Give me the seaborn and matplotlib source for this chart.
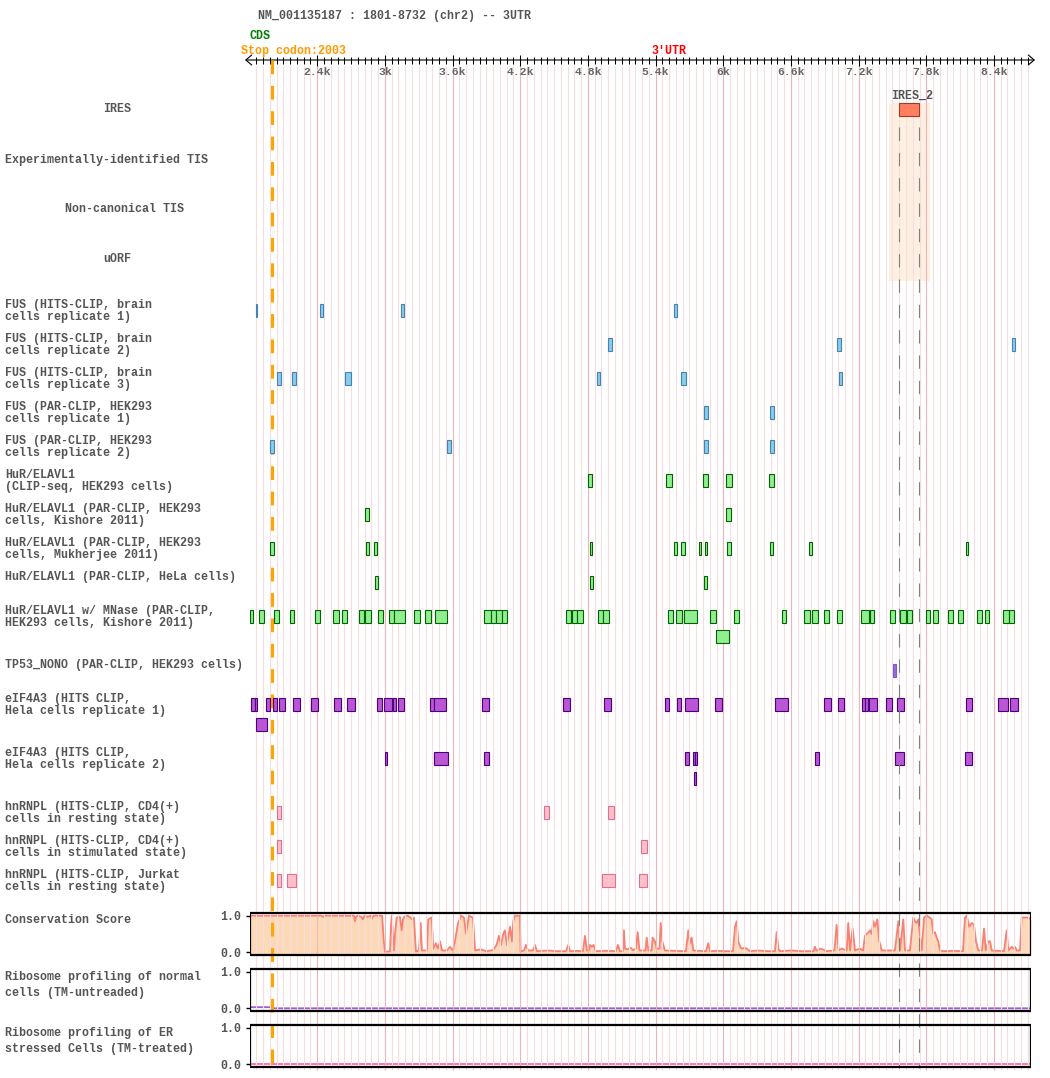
import numpy as np
import matplotlib
matplotlib.use("Agg")
import matplotlib.pyplot as plt
import matplotlib.transforms as mtransforms
from matplotlib.patches import Rectangle
import seaborn as sns

# ---------------- data ----------------
region_start, region_end = 1801, 8732
stop_codon = 2003
title = "NM_001135187 : 1801-8732 (chr2) -- 3UTR"

upper_labels = ["IRES", "Experimentally-identified TIS", "Non-canonical TIS", "uORF"]
ires_names = ["IRES_2"]
ires_regions = [(7560, 7738)]

fus_hits_rep1 = [(1855, 1870), (2424, 2448), (3145, 3166), (5566, 5587)]
fus_hits_rep2 = [(4980, 5010), (7011, 7041), (8563, 8584)]
fus_hits_rep3 = [(2043, 2075), (2178, 2208), (2648, 2696), (4880, 4904), (5628, 5667), (7029, 7050)]
fus_par_rep1 = [(5831, 5862), (6417, 6447)]
fus_par_rep2 = [(1983, 2013), (3553, 3583), (5831, 5862), (6417, 6447)]

hur_clipseq = [(4803, 4838), (5495, 5542), (5822, 5862), (6027, 6074), (6408, 6447)]
hur_kishore = [(2824, 2858), (6024, 6068)]
hur_mukherjee = [(1981, 2016), (2831, 2858), (2902, 2929), (4818, 4836), (5563, 5590),
                 (5626, 5661), (5785, 5803), (5838, 5856), (6033, 6068), (6414, 6441),
                 (6760, 6786), (8152, 8170)]
hur_hela = [(2910, 2937), (4818, 4844), (5829, 5856)]
hur_mnase = [(1801, 1827), (1886, 1930), (2019, 2058), (2158, 2196), (2382, 2421), (2542, 2590),
             (2622, 2661), (2770, 2811), (2826, 2873), (2941, 2980), (3038, 3080), (3080, 3175),
             (3260, 3308), (3358, 3405), (3446, 3553), (3881, 3938), (3938, 3985), (3985, 4038),
             (4038, 4085), (4608, 4647), (4661, 4703), (4703, 4753), (4892, 4933), (4933, 4984),
             (5512, 5551), (5583, 5631), (5654, 5764), (5885, 5932), (6098, 6142), (6523, 6559),
             (6718, 6771), (6789, 6842), (6895, 6940), (7011, 7055), (7224, 7289), (7301, 7339),
             (7481, 7520), (7570, 7617), (7629, 7676), (7800, 7835), (7862, 7906), (7995, 8034),
             (8084, 8128), (8252, 8297), (8323, 8359), (8483, 8533), (8533, 8580)]
hur_mnase_extra = [(5938, 6053)]

tp53_nono = [(7507, 7529)]

eif4a3_rep1 = [(1812, 1848), (1848, 1863), (1948, 1983), (2010, 2045), (2063, 2111), (2187, 2244),
               (2347, 2404), (2551, 2607), (2666, 2732), (2932, 2971), (2994, 3060), (3071, 3095),
               (3118, 3166), (3402, 3432), (3432, 3539), (3863, 3920), (4581, 4638), (4945, 5002),
               (5486, 5516), (5592, 5628), (5663, 5773), (5929, 5986), (6461, 6571), (6896, 6952),
               (7020, 7067), (7232, 7253), (7253, 7280), (7295, 7360), (7445, 7493), (7543, 7600),
               (8155, 8202), (8439, 8522), (8545, 8610)]
eif4a3_rep1_extra = [(1859, 1951)]
eif4a3_rep2 = [(3003, 3021), (3437, 3556), (3881, 3920), (5663, 5699), (5731, 5746), (5749, 5764),
               (6816, 6851), (7525, 7600), (8146, 8202)]
eif4a3_rep2_extra = [(5740, 5755)]

hnrnpl_resting = [(2043, 2075), (4410, 4457), (4980, 5033)]
hnrnpl_stimulated = [(2043, 2081), (5273, 5326)]
hnrnpl_jurkat = [(2043, 2081), (2134, 2214), (4927, 5042), (5255, 5326)]

cons_pos = [1801, 2440, 2453, 2466, 2725, 2734, 2745, 2761, 2790, 2805, 2818, 2850, 2870, 2885, 2900,
            2975, 2990, 3000, 3045, 3055, 3062, 3070, 3080, 3090, 3104, 3133, 3148, 3160, 3169, 3204,
            3225, 3240, 3257, 3268, 3275, 3302, 3317, 3328, 3373, 3380, 3384, 3414, 3422, 3428, 3452,
            3470, 3488, 3506, 3550, 3577, 3603, 3621, 3648, 3675, 3701, 3719, 3745, 3780, 3800, 3850,
            3900, 3960, 3990, 4011, 4029, 4049, 4064, 4082, 4109, 4126, 4138, 4153, 4197, 4203, 4233,
            4250, 4268, 4313, 4330, 4348, 4450, 4520, 4605, 4626, 4641, 4700, 4756, 4774, 4791, 4810,
            4818, 4835, 4850, 4870, 4950, 5048, 5066, 5084, 5110, 5119, 5128, 5150, 5180, 5200, 5226,
            5241, 5257, 5310, 5321, 5335, 5365, 5374, 5394, 5409, 5435, 5445, 5459, 5483, 5560, 5669,
            5690, 5705, 5720, 5734, 5800, 5847, 5867, 5882, 5950, 6020, 6086, 6104, 6119, 6133, 6150,
            6163, 6190, 6207, 6237, 6300, 6400, 6458, 6473, 6488, 6503, 6600, 6700, 6800, 6813, 6826,
            6840, 6860, 6884, 6911, 6986, 7005, 7023, 7050, 7095, 7108, 7124, 7147, 7168, 7212, 7240,
            7256, 7271, 7290, 7301, 7315, 7330, 7345, 7366, 7383, 7405, 7460, 7522, 7552, 7567, 7596,
            7611, 7655, 7685, 7700, 7715, 7729, 7759, 7780, 7804, 7830, 7848, 7862, 7877, 7892, 7906,
            7921, 7948, 8040, 8125, 8143, 8158, 8181, 8202, 8223, 8241, 8261, 8294, 8312, 8327, 8350,
            8365, 8380, 8430, 8489, 8513, 8527, 8557, 8570, 8587, 8602, 8631, 8646, 8702, 8732]
cons_val = [1.0, 1.0, 0.97, 1.0, 1.0, 0.85, 0.98, 1.0, 0.97, 0.9, 1.0, 0.97, 1.0, 0.92, 1.0,
            1.0, 0.3, 0.02, 0.02, 0.8, 1.0, 0.5, 0.05, 0.5, 0.95, 0.97, 0.6, 0.9, 0.97, 1.0,
            0.95, 0.9, 0.95, 0.4, 0.02, 0.05, 0.8, 0.05, 0.05, 0.6, 0.9, 0.95, 0.5, 0.1, 0.25,
            0.1, 0.3, 0.05, 0.05, 0.15, 0.05, 0.3, 0.8, 1.0, 0.95, 0.5, 1.0, 0.95, 0.05, 0.08,
            0.03, 0.06, 0.2, 0.45, 0.2, 0.5, 0.6, 0.2, 0.7, 0.3, 0.85, 1.0, 1.0, 0.02, 0.05,
            0.2, 0.05, 0.05, 0.2, 0.03, 0.05, 0.03, 0.03, 0.2, 0.03, 0.04, 0.03, 0.45, 0.05, 0.05,
            0.2, 0.15, 0.2, 0.03, 0.04, 0.03, 0.2, 0.03, 0.03, 0.6, 0.1, 0.08, 0.12, 0.06, 0.1,
            0.55, 0.05, 0.05, 0.4, 0.05, 0.05, 0.4, 0.3, 0.1, 0.1, 0.8, 0.3, 0.05, 0.04, 0.03,
            0.6, 0.25, 0.4, 0.05, 0.04, 0.03, 0.25, 0.03, 0.04, 0.03, 0.03, 0.7, 0.85, 0.3, 0.15,
            0.1, 0.12, 0.1, 0.03, 0.05, 0.03, 0.03, 0.55, 0.1, 0.03, 0.05, 0.03, 0.03, 0.15, 0.05,
            0.05, 0.1, 0.08, 0.03, 0.05, 0.75, 0.05, 0.1, 0.05, 0.8, 0.05, 0.65, 0.05, 0.1, 0.05,
            0.45, 0.5, 0.55, 0.6, 0.5, 0.85, 0.7, 0.9, 0.3, 0.05, 0.05, 0.05, 0.85, 0.05, 0.9,
            0.05, 0.05, 0.95, 0.85, 0.8, 0.9, 0.05, 0.95, 1.0, 0.95, 0.9, 0.5, 0.55, 0.4, 0.3,
            0.05, 0.03, 0.04, 0.03, 0.95, 1.0, 0.7, 0.8, 0.75, 0.3, 0.05, 0.05, 0.65, 0.05, 0.3,
            0.3, 0.05, 0.04, 0.03, 0.6, 0.05, 0.15, 0.1, 0.15, 0.05, 0.05, 0.95, 0.95, 0.9]

ribo_normal_pos = [1801, 2003, 2010, 8732]
ribo_normal_val = [0.03, 0.03, 0.0, 0.0]
ribo_er_pos = [1801, 8732]
ribo_er_val = [0.0, 0.0]

# ---------------- style ----------------
sns.set_theme(style="white")
plt.rcParams["font.family"] = ["Liberation Mono", "DejaVu Sans Mono"]

GRAY = "#555555"
FS = 8.4
txt = dict(fontsize=FS, fontweight="bold", color=GRAY)

styles = {
    "fus": ("#87CEEB", "#4682B4"),
    "hur": ("#90EE90", "#006400"),
    "tp53": ("#9370DB", "#7B5BC9"),
    "eif": ("#BA55D3", "#4B0082"),
    "hnrnpl": ("#FFC0CB", "#DB7093"),
}

tracks = [
    ("FUS (HITS-CLIP, brain\ncells replicate 1)", fus_hits_rep1, [], "fus"),
    ("FUS (HITS-CLIP, brain\ncells replicate 2)", fus_hits_rep2, [], "fus"),
    ("FUS (HITS-CLIP, brain\ncells replicate 3)", fus_hits_rep3, [], "fus"),
    ("FUS (PAR-CLIP, HEK293\ncells replicate 1)", fus_par_rep1, [], "fus"),
    ("FUS (PAR-CLIP, HEK293\ncells replicate 2)", fus_par_rep2, [], "fus"),
    ("HuR/ELAVL1\n(CLIP-seq, HEK293 cells)", hur_clipseq, [], "hur"),
    ("HuR/ELAVL1 (PAR-CLIP, HEK293\ncells, Kishore 2011)", hur_kishore, [], "hur"),
    ("HuR/ELAVL1 (PAR-CLIP, HEK293\ncells, Mukherjee 2011)", hur_mukherjee, [], "hur"),
    ("HuR/ELAVL1 (PAR-CLIP, HeLa cells)", hur_hela, [], "hur"),
    ("HuR/ELAVL1 w/ MNase (PAR-CLIP,\nHEK293 cells, Kishore 2011)", hur_mnase, hur_mnase_extra, "hur"),
    ("TP53_NONO (PAR-CLIP, HEK293 cells)", tp53_nono, [], "tp53"),
    ("eIF4A3 (HITS CLIP,\nHela cells replicate 1)", eif4a3_rep1, eif4a3_rep1_extra, "eif"),
    ("eIF4A3 (HITS CLIP,\nHela cells replicate 2)", eif4a3_rep2, eif4a3_rep2_extra, "eif"),
    ("hnRNPL (HITS-CLIP, CD4(+)\ncells in resting state)", hnrnpl_resting, [], "hnrnpl"),
    ("hnRNPL (HITS-CLIP, CD4(+)\ncells in stimulated state)", hnrnpl_stimulated, [], "hnrnpl"),
    ("hnRNPL (HITS-CLIP, Jurkat\ncells in resting state)", hnrnpl_jurkat, [], "hnrnpl"),
]

# ---------------- layout (pixels) ----------------
W, H = 1050, 1078
X0, X1 = 249.7, 1031.4
fig = plt.figure(figsize=(W / 100, H / 100), dpi=100)
fig.patch.set_facecolor("white")

ax = fig.add_axes([X0 / W, 0, (X1 - X0) / W, 1])
ax.set_xlim(region_start, region_end)
ax.set_ylim(H, 0)
ax.axis("off")
ax.set_zorder(2)
left_tr = mtransforms.blended_transform_factory(fig.transFigure, ax.transData)
upx = (region_end - region_start) / (X1 - X0)  # genome units per pixel


def left_label(px, py, s, **kw):
    ax.text(px / W, py, s, transform=left_tr, ha="left", va="center", **{**txt, **kw})


# grid + axis ticks
grid = np.arange(1860, 8701, 60)
major = grid[grid % 600 == 0]
ax.vlines(grid[grid % 600 != 0], 66, 1070, color="#F8DDE0", lw=0.8, zorder=0.5)
ax.vlines(major, 66, 1070, color="#EDB5B9", lw=0.8, zorder=0.5)
ax.annotate("", xy=(region_end + 3.6 * upx, 60), xytext=(region_start - 4.7 * upx, 60),
            arrowprops=dict(arrowstyle="<->,head_length=0.35,head_width=0.3", lw=0.8,
                            color="black", shrinkA=0, shrinkB=0),
            annotation_clip=False, zorder=3)
ax.vlines(grid, 57, 63.5, color="black", lw=0.75, zorder=3)
ax.vlines(major, 55, 65.5, color="black", lw=0.75, zorder=3)
for m in major:
    ax.text(m, 72, f"{m / 1000:g}k", ha="center", va="center", fontsize=8.2,
            fontweight="bold", color="#666666")

# header texts
fig.text(258 / W, 1 - 16 / H, title, ha="left", va="center", **txt)
ax.text(region_start, 36, "CDS", ha="left", va="center", fontsize=FS, fontweight="bold", color="#008000")
fig.text(241 / W, 1 - 51 / H, f"Stop codon:{stop_codon}", ha="left", va="center",
         fontsize=FS, fontweight="bold", color="#FF9A00")
ax.text((stop_codon + region_end) / 2, 51, "3'UTR", ha="left", va="center",
        fontsize=FS, fontweight="bold", color="red")

# upper tracks
upper_x = [103, 5, 65, 103]
for i, lab in enumerate(upper_labels):
    left_label(upper_x[i], 109.5 + 50 * i, lab)

for name, (s, e) in zip(ires_names, ires_regions):
    ax.fill_between([s - 95, e + 95], 102.7, 280.7, color="#FDF0E1", lw=0, zorder=0.2)
    ax.barh(109.6, e - s, left=s, height=12.7, color="#FF7F5F", edgecolor="#9E3B2B",
            linewidth=0.8, zorder=4)
    ax.text((s + e) / 2 + 25, 96, name, ha="center", va="center", **txt)
    for xb in (s, e):
        ax.plot([xb, xb], [126.7, 1068], color="#808080", lw=0.8,
                linestyle=(0, (12, 10.8)), zorder=5)

# stop codon line
ax.plot([stop_codon, stop_codon], [60, 1067], color="#FFA500", lw=2.2,
        linestyle=(0, (4.5, 3.8)), zorder=3.5)

# RBP tracks
y = 310
for lab, feats, extra, key in tracks:
    face, edge = styles[key]
    for row, fl in enumerate([feats, extra]):
        if not fl:
            continue
        st = np.array([f[0] for f in fl])
        en = np.array([f[1] for f in fl])
        ax.barh(np.full(len(fl), y + 20 * row), en - st, left=st, height=13,
                color=face, edgecolor=edge, linewidth=0.8, zorder=4)
    for k, line in enumerate(lab.split("\n")):
        left_label(5, y - 5 + 12 * k, line)
    y += 34 + (20 if extra else 0)


# signal panels (frame drawn in the main axes so it sits above the grid)
def panel(top, bottom):
    a = fig.add_axes([X0 / W, 1 - bottom / H, (X1 - X0) / W, (bottom - top) / H])
    a.set_zorder(1)
    a.set_facecolor("none")
    a.set_xlim(region_start, region_end)
    a.set_ylim(-0.074, 1.074)
    a.set_xticks([])
    a.set_yticks([0, 1], ["0.0", "1.0"])
    a.tick_params(axis="y", left=True, length=3, width=1, pad=3, labelsize=FS,
                  labelcolor=GRAY, color="black")
    for t in a.get_yticklabels():
        t.set_fontweight("bold")
    for sp in a.spines.values():
        sp.set_visible(False)
    ax.add_patch(Rectangle((region_start, top), region_end - region_start, bottom - top,
                           fill=False, edgecolor="black", lw=1.6, zorder=6))
    return a


axc = panel(913, 955)
axc.fill_between(cons_pos, cons_val, -0.074, color="#FDD9B8", lw=0)
sns.lineplot(x=cons_pos, y=cons_val, ax=axc, color="#FA8072", lw=1.3, errorbar=None)
axc.set_xlabel("")
axc.set_ylabel("")
left_label(5, 920, "Conservation Score")

axr1 = panel(969, 1011)
sns.lineplot(x=ribo_normal_pos, y=ribo_normal_val, ax=axr1, color="#A15BD6", lw=1.3, errorbar=None)
axr1.set_xlabel("")
axr1.set_ylabel("")
left_label(5, 977, "Ribosome profiling of normal")
left_label(5, 993, "cells (TM-untreaded)")

axr2 = panel(1025, 1067)
sns.lineplot(x=ribo_er_pos, y=ribo_er_val, ax=axr2, color="#FF69B4", lw=1.3, errorbar=None)
axr2.set_xlabel("")
axr2.set_ylabel("")
left_label(5, 1033, "Ribosome profiling of ER")
left_label(5, 1049, "stressed Cells (TM-treated)")

fig.savefig("out.png", dpi=100, facecolor="white")
